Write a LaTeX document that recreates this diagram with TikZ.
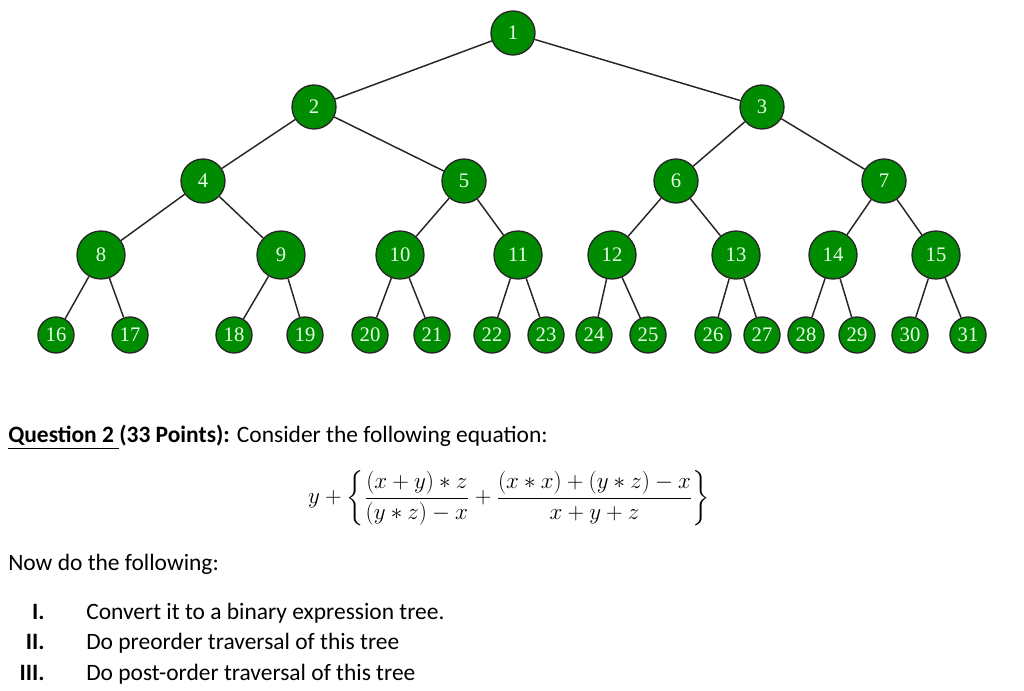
\documentclass[tikz,border=0pt]{standalone}
\usepackage{amsmath}
\usepackage{fontspec}
\setmainfont{Carlito}
\newfontfamily\treefont{Liberation Serif}
\begin{document}
\begin{tikzpicture}[x=0.75pt,y=-0.75pt,
  tn/.style={circle,draw=black!85,line width=1pt,fill=green!55!black,text=green!10,font=\treefont\fontsize{15.5}{15.5}\selectfont,inner sep=0pt},
  big/.style={tn,minimum size=33pt},
  mid/.style={tn,minimum size=36pt},
  leaf/.style={tn,minimum size=27pt},
  edge/.style={line width=1.1pt,black!85},
  txt/.style={anchor=base west,inner sep=0pt,font=\fontsize{17.6}{20}\selectfont}]
\useasboundingbox (0,0) rectangle (1024,691);
\node[big] (n1) at (513,33) {1};
\node[big] (n2) at (314,107) {2};
\node[big] (n3) at (762,107) {3};
\node[big] (n4) at (203,181) {4};
\node[big] (n5) at (464,181) {5};
\node[big] (n6) at (676,181) {6};
\node[big] (n7) at (884,181) {7};
\foreach \n/\x in {8/101,9/281,10/400,11/518,12/612,13/736,14/833,15/936}
  \node[mid] (n\n) at (\x,255) {\n};
\foreach \n/\x in {16/56,17/130,18/234,19/305,20/370,21/432,22/492,23/546,24/594,25/648,26/713,27/762,28/806,29/857,30/910,31/968}
  \node[leaf] (n\n) at (\x,335) {\n};
\foreach \p/\a/\b in {1/2/3,2/4/5,3/6/7,4/8/9,5/10/11,6/12/13,7/14/15,8/16/17,9/18/19,10/20/21,11/22/23,12/24/25,13/26/27,14/28/29,15/30/31}{
  \draw[edge] (n\p) -- (n\a);
  \draw[edge] (n\p) -- (n\b);
}
\node[txt] (q) at (8,442) {\textbf{\underline{Question 2\vphantom{p}\ }(33 Points):} Consider the following equation:};
\node[inner sep=0pt,font=\fontsize{18.5}{22}\selectfont] (eq) at (509,498) {$y+\left\{\dfrac{(x+y)\ast z}{(y\ast z)-x}+\dfrac{(x\ast x)+(y\ast z)-x}{x+y+z}\right\}$};
\node[txt] (now) at (8,570) {Now do the following:};
\node[txt,anchor=base east] (r1) at (45,619) {\textbf{I.}};
\node[txt,anchor=base east] (r2) at (45,649) {\textbf{II.}};
\node[txt,anchor=base east] (r3) at (45,680) {\textbf{III.}};
\node[txt] (i1) at (86,619) {Convert it to a binary expression tree.};
\node[txt] (i2) at (86,649) {Do preorder traversal of this tree};
\node[txt] (i3) at (86,680) {Do post-order traversal of this tree};
\end{tikzpicture}
\end{document}
